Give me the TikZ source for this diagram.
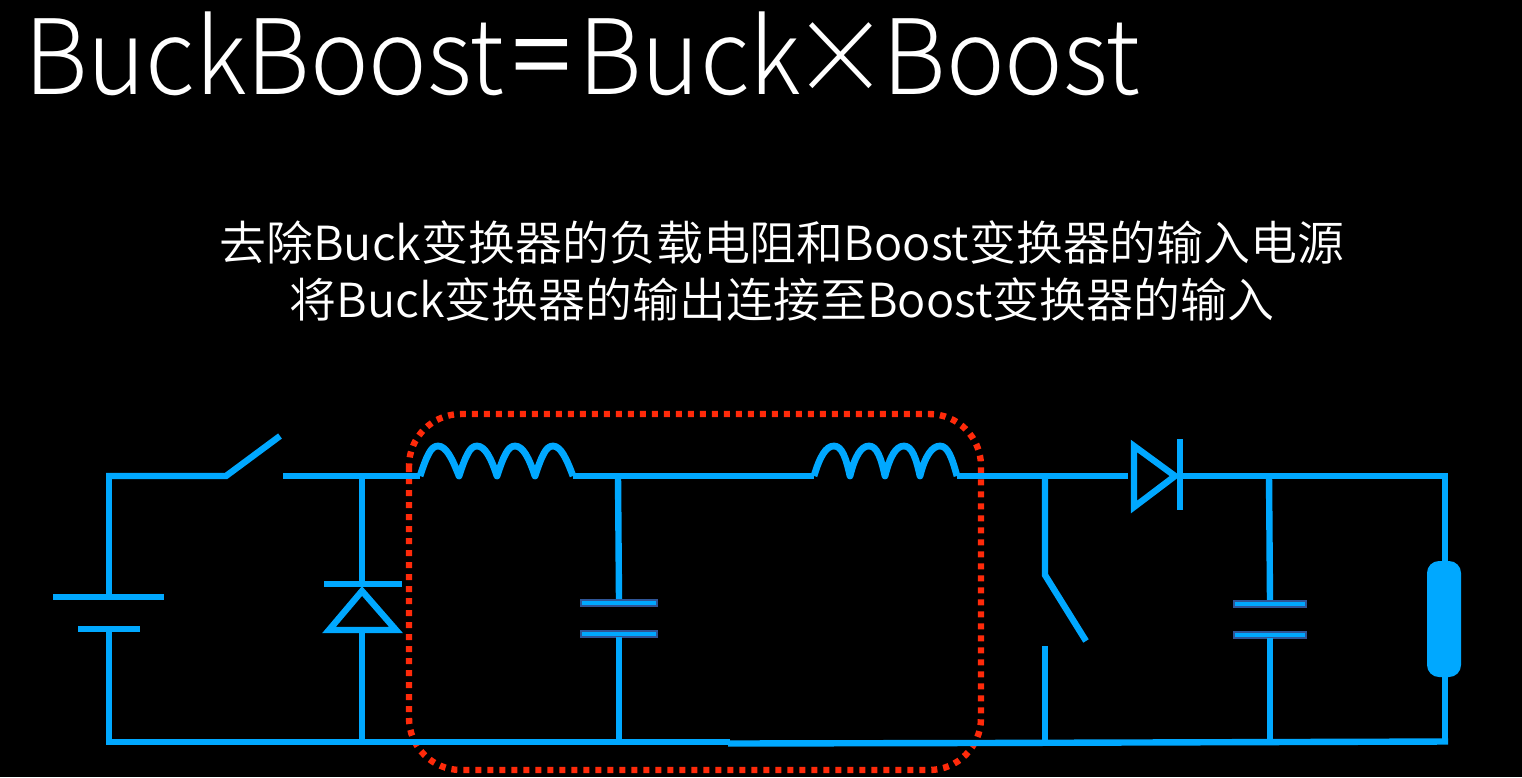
\documentclass[tikz,border=0pt]{standalone}
\usepackage{fontspec}
\setmainfont{Noto Sans CJK SC}
\newfontfamily\titlef[FakeStretch=0.95]{Noto Sans CJK SC Light}
\newfontfamily\bodyf{Noto Sans CJK SC DemiLight}
\definecolor{wire}{HTML}{00A8FF}
\definecolor{platerim}{HTML}{2F5597}
\definecolor{dots}{HTML}{FF2A0A}
\tikzset{
  x=1pt,y=-1pt,
  wirel/.style={draw=wire,line width=6.4pt,line cap=butt,line join=miter},
  inductor/.style={draw=wire,line width=6.8pt,line join=round,line cap=butt},
  plate/.style={draw=platerim,fill=wire,line width=2pt},
  redbox/.style={draw=dots,line width=6.4pt,dash pattern=on 6pt off 6pt,rounded corners=52pt},
  loadr/.style={fill=wire,rounded corners=12pt},
  txt/.style={text=white,inner sep=0pt,anchor=center},
}
\begin{document}
\begin{tikzpicture}
\useasboundingbox[fill=black] (0,0) rectangle (1522,777);
\node[txt,anchor=base west,font=\titlef\fontsize{104}{104}\selectfont] (title) at (24,94) {BuckBoost\kern2pt\scalebox{0.68}[1]{\normalfont＝}\kern1pt Buck\kern-9pt ×\kern-8pt Boost};
\node[txt,font=\bodyf\fontsize{46.95}{46.95}\selectfont] (l1) at (782,243) {去除Buck变换器的负载电阻和Boost变换器的输入电源};
\node[txt,font=\bodyf\fontsize{46.95}{46.95}\selectfont] (l2) at (782,300) {将Buck变换器的输出连接至Boost变换器的输入};
\draw[redbox] (409,414) rectangle (981,770);
% coordinates
\coordinate (tl) at (106,476);
\coordinate (sw1a) at (226,476);
\coordinate (sw1b) at (280,436);
\coordinate (sw1c) at (283,476);
\coordinate (d1t) at (362,476);
\coordinate (d1b) at (362,742);
\coordinate (l1a) at (420,476);
\coordinate (l1b) at (573,476);
\coordinate (c1t) at (618,476);
\coordinate (c1b) at (619,742);
\coordinate (l2a) at (814,476);
\coordinate (l2b) at (957,476);
\coordinate (s2t) at (1045,476);
\coordinate (s2m) at (1045,575);
\coordinate (s2e) at (1086,641);
\coordinate (s2l) at (1045,646);
\coordinate (s2b) at (1045,743);
\coordinate (d2k) at (1128,476);
\coordinate (d2a) at (1180,476);
\coordinate (c2t) at (1269,476);
\coordinate (c2b) at (1270,742);
\coordinate (tr) at (1445,476);
\coordinate (br) at (1445,741);
\coordinate (bl) at (109,742);
% wires
\draw[wirel] (tl) -- (sw1a) -- (sw1b);
\draw[wirel] (109,476) -- (109,597);
\draw[wirel] (53,597) -- (164,597);
\draw[wirel] (78,629) -- (140,629);
\draw[wirel] (109,629) -- (bl);
\draw[wirel] (106,742) -- (730,742);
\draw[wirel] (728,743.5) -- (975,743);
\draw[wirel] (975,743) -- (1448,741.5);
\draw[wirel] (sw1c) -- (l1a);
\draw[wirel] (d1t) -- (362,584);
\draw[wirel] (324,584) -- (402,584);
\draw[wirel] (362,591) -- (396,630) -- (329,630) -- cycle;
\draw[wirel] (362,631) -- (d1b);
\draw[inductor] (l1a) .. controls (427,455) and (431,446) .. (438,446)
  .. controls (446,446) and (452,458) .. (459,476)
  .. controls (466,455) and (470,446) .. (477,446)
  .. controls (485,446) and (491,458) .. (497,476)
  .. controls (504,455) and (508,446) .. (515,446)
  .. controls (523,446) and (529,458) .. (535,476)
  .. controls (542,455) and (546,446) .. (553,446)
  .. controls (561,446) and (567,460) .. (l1b);
\draw[wirel] (l1b) -- (l2a);
\draw[wirel] (c1t) -- (619,600);
\draw[plate] (581,600) rectangle (657,606);
\draw[plate] (581,631) rectangle (657,637);
\draw[wirel] (619,637) -- (c1b);
\draw[inductor] (l2a) .. controls (820,456) and (826,446) .. (834,446)
  .. controls (842,446) and (846,458) .. (850,476)
  .. controls (855,456) and (861,446) .. (869,446)
  .. controls (877,446) and (881,458) .. (885,476)
  .. controls (890,456) and (896,446) .. (904,446)
  .. controls (912,446) and (916,458) .. (920,476)
  .. controls (925,456) and (932,446) .. (940,446)
  .. controls (948,446) and (952,458) .. (l2b);
\draw[wirel] (l2b) -- (d2k);
\draw[wirel] (s2t) -- (s2m) -- (s2e);
\draw[wirel] (s2l) -- (s2b);
\draw[wirel] (1134,446) -- (1175,476) -- (1134,507) -- cycle;
\draw[wirel] (1180,439) -- (1180,510);
\draw[wirel] (d2a) -- (1448,476);
\draw[wirel] (c2t) -- (1270,601);
\draw[plate] (1234,601) rectangle (1306,607);
\draw[plate] (1234,632) rectangle (1306,638);
\draw[wirel] (1270,638) -- (c2b);
\draw[wirel] (tr) -- (br);
\fill[loadr] (1427,561) rectangle (1461,677);
\end{tikzpicture}
\end{document}
